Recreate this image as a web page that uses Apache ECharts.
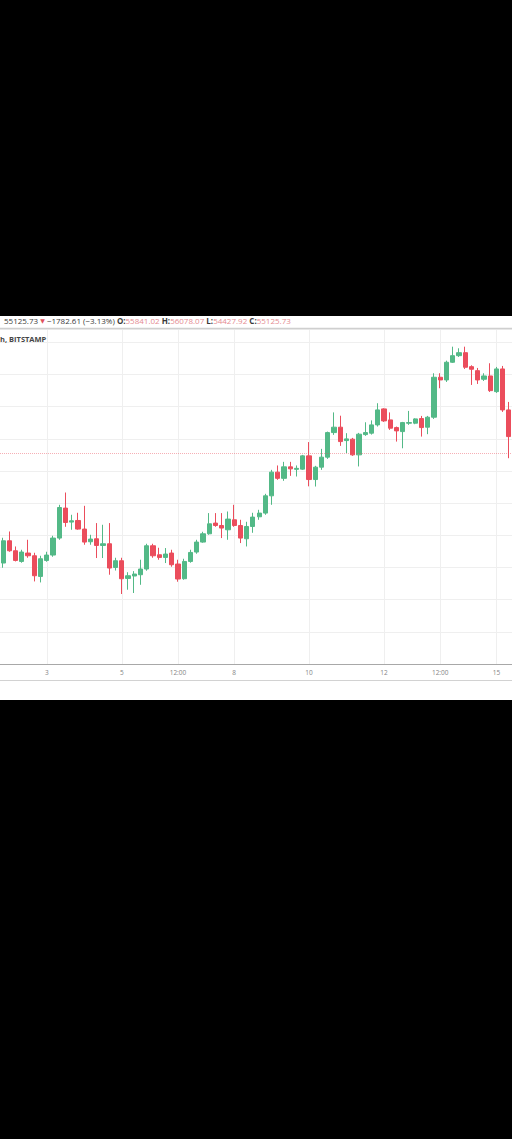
<!DOCTYPE html>
<html><head><meta charset="utf-8">
<script src="https://cdn.jsdelivr.net/npm/echarts@6/dist/echarts.min.js"></script>
<style>
html,body{margin:0;padding:0;background:#000;width:512px;height:1139px;overflow:hidden}
#band{position:absolute;left:0;top:316px;width:512px;height:384px;background:#fff}
#chart{position:absolute;left:0;top:0;width:512px;height:1139px}
</style></head>
<body><div id="band"></div><div id="chart"></div>
<script>
// 4h candles, BITSTAMP, from day 1 20:00
const opens = [48276,49661,49040,48376,48897,48729,47445,48438,48773,49829,
  51692,50822,50922,50388,49599,49785,49369,49475,48003,48419,
  47320,47469,47550,47904,49351,48791,48624,48897,48214,47301,
  48376,48959,49580,50095,50760,50611,50344,50965,50611,49785,
  50549,51152,51381,52455,53927,53542,54256,54101,54113,54939,
  53467,54237,54858,56386,56721,55889,55976,55001,56262,56349,
  56865,57858,57175,56697,56448,56970,56970,57259,56721,57342,
  59826,59659,60758,61168,61354,60485,60237,59702,59907,58932,
  60343,57796];
const closes = [49661,49040,48438,48959,48729,47487,48543,48773,49829,51729,
  50797,50903,50388,49580,49767,49369,49475,47966,48419,47301,
  47487,47593,47904,49351,48729,48624,48835,48171,47283,48376,
  48935,49580,50095,50716,50611,50450,51008,50611,49829,50549,
  51133,51381,52455,53927,53542,54256,54132,54163,54939,53467,
  54237,54858,56386,56721,55827,55995,55001,56287,56386,56865,
  57796,57113,56659,56492,57007,57007,57237,56697,57342,59826,
  59659,60758,61168,61354,60448,60324,59659,59907,58994,60343,
  57796,56138];
const lows = [47984,48978,48376,48296,48605,47133,47071,48357,48667,49723,
  50530,50344,50344,49413,49413,48587,48587,47550,47811,46351,
  46618,46413,46924,47798,48605,48481,48276,48047,47115,47239,
  48296,48853,49537,50034,50530,49829,49723,50530,49518,49307,
  50157,50965,51276,51897,53449,53387,53697,53656,54070,53045,
  53033,54070,54752,56243,55560,55113,54939,54281,56182,56262,
  56761,57051,56554,55827,55411,56865,56908,56138,56287,57237,
  59143,59535,60715,61087,60343,59348,59410,59597,58913,58851,
  57672,54793];
const highs = [49847,50238,49307,49102,49723,48916,48729,48978,49971,51897,
  52660,51276,51400,51834,50034,50760,50655,50760,48605,48605,
  47705,47773,48481,49475,49475,49226,49208,49102,48481,48543,
  49102,49723,50220,51381,51381,51381,51481,51897,50965,50841,
  51400,51586,52580,54070,54343,54567,54567,54343,55001,55796,
  54318,55374,56448,57641,57435,56349,56057,56368,57027,57145,
  58212,57899,57641,56761,57051,57734,57278,57423,57423,60075,
  60075,60858,61727,61627,61727,60571,60405,60075,60696,60467,
  60529,58292];
const lastPrice = 55125.73;
const tickIdx = [7,19,28,37,49,61,70,79];
const tickText = ['3','5','12:00','8','10','12','12:00','15'];
const hdrLast = '55125.73', hdrChange = '−1782.61 (−3.13%)';
const hdrO = '55841.02', hdrH = '56078.07', hdrL = '54427.92', hdrC = '55125.73';
const subtitle = 'h, BITSTAMP';

const categories = opens.map((_, i) => {
  const h = 20 + 4 * i;
  return (1 + Math.floor(h / 24)) + ' ' + String(h % 24).padStart(2, '0') + ':00';
});
const candles = opens.map((o, i) => [o, closes[i], lows[i], highs[i]]);

const chart = echarts.init(document.getElementById('chart'), null, {renderer: 'svg'});
const FF = 'Open Sans';
const headerText = '{d|' + hdrLast + ' }{a|▼}{d| ' + hdrChange + ' }' +
  '{b|O:}{v|' + hdrO + ' }{b|H:}{v|' + hdrH + ' }{b|L:}{v|' + hdrL + ' }{b|C:}{v|' + hdrC + '}';
const graphics = [
  {type: 'text', x: 4, y: 320, z: 10, style: {
    text: headerText, fontSize: 8, fontFamily: FF, verticalAlign: 'middle',
    rich: {
      d: {fill: '#3a3a3a', fontSize: 8, fontFamily: FF},
      a: {fill: '#e0515c', fontSize: 6, fontFamily: 'DejaVu Sans'},
      b: {fill: '#3a3a3a', fontSize: 8, fontWeight: 'bold', fontFamily: FF},
      v: {fill: '#e58a91', fontSize: 8, fontFamily: FF}
    }}},
  {type: 'text', x: 0, y: 338.5, z: 10,
    style: {text: subtitle, fill: '#444', fontSize: 7.5, fontWeight: 'bold', fontFamily: FF, verticalAlign: 'middle'}},
  {type: 'line', z: 10, shape: {x1: 0, y1: 328.5, x2: 512, y2: 328.5}, style: {stroke: '#cfcfcf', lineWidth: 1.5}},
  {type: 'line', z: 10, shape: {x1: 0, y1: 680.5, x2: 512, y2: 680.5}, style: {stroke: '#d2d2d2', lineWidth: 1}}
];

chart.setOption({
  backgroundColor: 'transparent',
  animation: false,
  graphic: graphics,
  grid: {left: 0, right: 0, top: 329, bottom: 475, containLabel: false},
  xAxis: {
    type: 'category', data: categories, boundaryGap: true,
    axisLine: {lineStyle: {color: '#a8a8a8', width: 1}},
    axisTick: {alignWithLabel: true, interval: (i) => tickIdx.includes(i), length: 3, lineStyle: {color: '#a8a8a8'}},
    axisLabel: {interval: (i) => tickIdx.includes(i), formatter: (v, i) => tickText[tickIdx.indexOf(i)] || '',
      color: '#858585', fontSize: 6.5, margin: 5, fontFamily: FF},
    splitLine: {show: false}
  },
  yAxis: {
    type: 'value', min: 42000, max: 62826, interval: 2000, scale: true,
    axisLabel: {show: false}, axisLine: {show: false}, axisTick: {show: false},
    splitLine: {show: true, lineStyle: {color: '#efefef', width: 1}}
  },
  series: [
    {
      type: 'line', data: [], z: 1, silent: true,
      markLine: {
        z: 1, silent: true, symbol: ['none', 'none'], label: {show: false},
        lineStyle: {color: '#efefef', type: 'solid', width: 1},
        data: tickIdx.map(i => ({xAxis: categories[i]}))
      }
    },
    {
      type: 'candlestick', data: candles, barWidth: 4.7, z: 3,
      itemStyle: {color: '#53b987', color0: '#eb4d5c', borderColor: '#53b987', borderColor0: '#eb4d5c', borderWidth: 1},
      markLine: {
        silent: true, symbol: ['none', 'none'], label: {show: false},
        lineStyle: {color: '#eb4d5c', type: 'dotted', width: 1, opacity: 0.45},
        data: [{yAxis: lastPrice}]
      }
    }
  ]
});
</script></body></html>
